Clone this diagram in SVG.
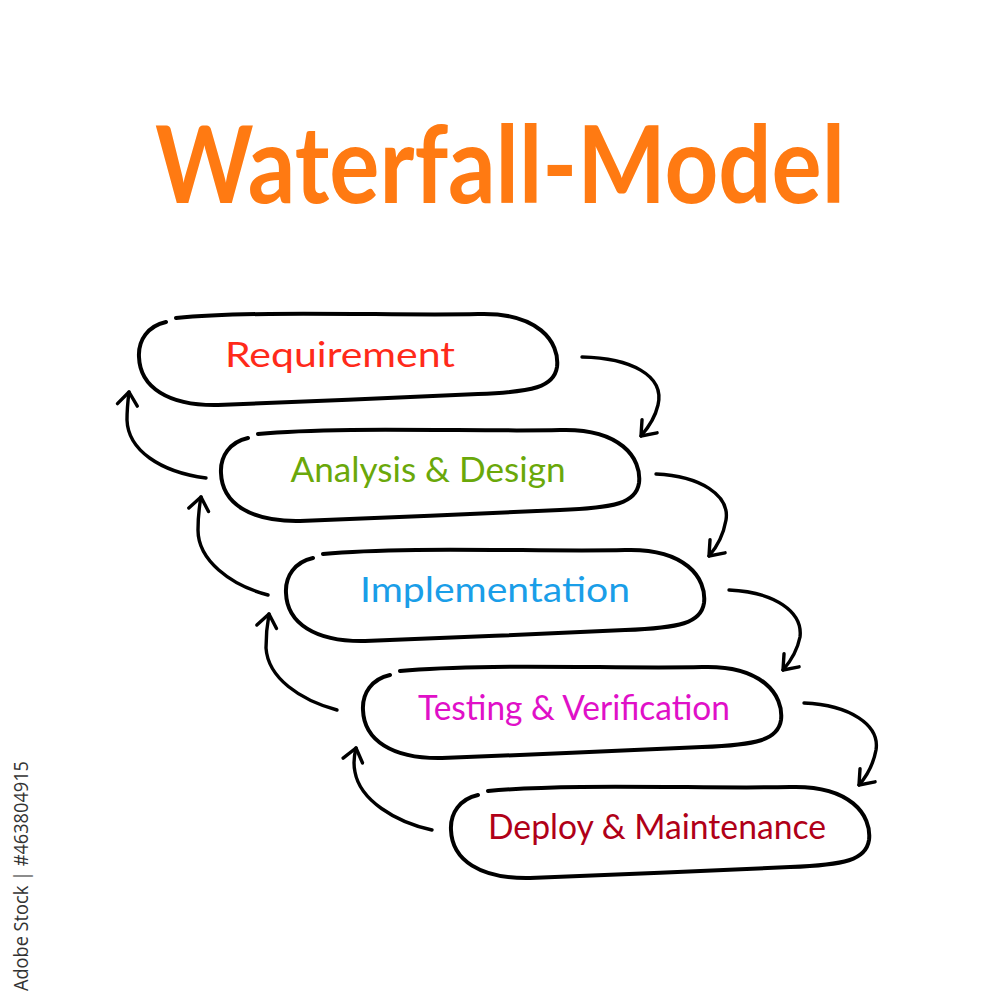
<svg xmlns="http://www.w3.org/2000/svg" width="1000" height="1000" viewBox="0 0 1000 1000">
<style>
.pill{fill:none;stroke:#000;stroke-width:4;stroke-linecap:round;stroke-linejoin:round}
.lbl{font-family:"Lato","Open Sans","Liberation Sans",sans-serif;font-size:35px;text-anchor:middle}
.conn path{fill:none;stroke:#000;stroke-width:3.4;stroke-linecap:round}
</style>
<defs>
<marker id="ah" viewBox="-16 -12 18 24" markerWidth="18" markerHeight="24" markerUnits="userSpaceOnUse" orient="auto" refX="0" refY="0">
<path d="M-13,-10 L0,0 L-13,10" fill="none" stroke="#000" stroke-width="3.4" stroke-linecap="round" stroke-linejoin="round"/>
</marker>
<path id="pillshape" d="M38,6 C120,-2 260,4 340,2 C400,0 422,30 419,55 C416,75 395,80 340,82 C260,86 160,90 80,93 C30,94 2,75 1,45 C0,28 10,14 28,10"/>
</defs>
<rect width="1000" height="1000" fill="#fff"/>
<text x="500" y="203" font-family="Lato,'Open Sans','Liberation Sans',sans-serif" font-weight="bold" font-size="108" fill="#ff7a12" text-anchor="middle" textLength="690" lengthAdjust="spacingAndGlyphs">Waterfall-Model</text>

<g id="node-requirement" transform="translate(138,312)">
<use href="#pillshape" class="pill"/>
<text class="lbl" x="202" y="55" fill="#ff2a1a" textLength="230" lengthAdjust="spacingAndGlyphs">Requirement</text>
</g>
<g id="node-analysis" transform="translate(220,428)">
<use href="#pillshape" class="pill"/>
<text class="lbl" x="208" y="54" fill="#6aa80a" textLength="275" lengthAdjust="spacingAndGlyphs">Analysis &amp; Design</text>
</g>
<g id="node-implementation" transform="translate(285,548)">
<use href="#pillshape" class="pill"/>
<text class="lbl" x="210" y="54" fill="#1a9ee8" textLength="270" lengthAdjust="spacingAndGlyphs">Implementation</text>
</g>
<g id="node-testing" transform="translate(362,665)">
<use href="#pillshape" class="pill"/>
<text class="lbl" x="212" y="55" fill="#e010c8" textLength="312" lengthAdjust="spacingAndGlyphs">Testing &amp; Verification</text>
</g>
<g id="node-deploy" transform="translate(450,785)">
<use href="#pillshape" class="pill"/>
<text class="lbl" x="207" y="54" fill="#b00018" textLength="338" lengthAdjust="spacingAndGlyphs">Deploy &amp; Maintenance</text>
</g>

<g id="connectors" class="conn">
<path d="M582,357 C630,358 665,375 658,405 C655,418 648,428 641,436" marker-end="url(#ah)"/>
<path d="M656,474 C700,476 730,495 726,520 C723,537 716,548 709,556" marker-end="url(#ah)"/>
<path d="M729,590 C775,592 803,612 800,637 C797,652 790,662 783,670" marker-end="url(#ah)"/>
<path d="M804,703 C850,705 880,725 876,750 C873,766 866,777 859,785" marker-end="url(#ah)"/>
<path d="M206,478 C160,472 128,450 127,420 C127,410 128,400 129,392" marker-end="url(#ah)"/>
<path d="M268,595 C230,585 198,560 198,530 C198,518 199,508 201,497" marker-end="url(#ah)"/>
<path d="M337,710 C300,700 268,678 266,648 C266,636 267,625 269,614" marker-end="url(#ah)"/>
<path d="M432,830 C395,822 360,800 355,772 C353,763 354,756 356,748" marker-end="url(#ah)"/>
</g>

<text transform="translate(28,876) rotate(-90)" font-family="'Open Sans','Liberation Sans',sans-serif" font-size="20" fill="#333" text-anchor="middle" textLength="230" lengthAdjust="spacingAndGlyphs">Adobe Stock | #463804915</text>
</svg>
